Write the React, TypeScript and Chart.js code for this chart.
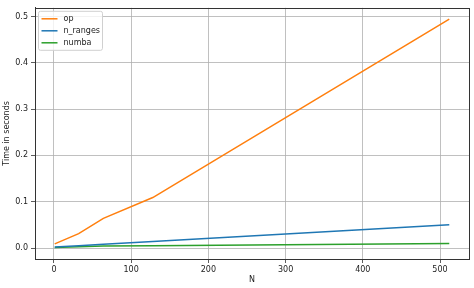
import React, { useEffect, useRef } from "react";
import { Chart, registerables } from "chart.js";

Chart.register(...registerables);

const nValues = [1, 32, 64, 128, 512];
const opTimes = [0.009, 0.031, 0.064, 0.109, 0.494];
const nRangesTimes = [0.002, 0.005, 0.008, 0.014, 0.0505];
const numbaTimes = [0.001, 0.003, 0.0045, 0.005, 0.010];
const seriesNames = ["op", "n_ranges", "numba"];
const seriesColors = ["#ff7f0e", "#1f77b4", "#2ca02c"];
const xTicks = [0, 100, 200, 300, 400, 500];
const yTicks = [0, 0.1, 0.2, 0.3, 0.4, 0.5];

const FONT = "'DejaVu Sans', sans-serif";

export default function App() {
  const ref = useRef<HTMLCanvasElement | null>(null);
  useEffect(() => {
    if (!ref.current) return;
    const all = [opTimes, nRangesTimes, numbaTimes];
    const datasets = all.map((vals, i) => ({
      label: seriesNames[i],
      data: nValues.map((n, j) => ({ x: n, y: vals[j] })),
      borderColor: seriesColors[i],
      backgroundColor: seriesColors[i],
      borderWidth: 1.5,
      pointRadius: 0,
      tension: 0,
      fill: false,
    }));
    const xmin = Math.min(...nValues);
    const xmax = Math.max(...nValues);
    const xm = (xmax - xmin) * 0.05;
    const flat = all.flat();
    const ymin = Math.min(...flat);
    const ymax = Math.max(...flat);
    const ym = (ymax - ymin) * 0.05;

    const framePlugin = {
      id: "frame",
      afterDraw(chart: any) {
        const { ctx, chartArea: a } = chart;
        ctx.save();
        ctx.strokeStyle = "#333";
        ctx.lineWidth = 1;
        ctx.strokeRect(Math.round(a.left) + 0.5, Math.round(a.top) + 0.5, Math.round(a.right - a.left), Math.round(a.bottom - a.top));
        // legend
        const lx = a.left + 3.5, ly = a.top + 3.5, lw = 64, lh = 39;
        ctx.fillStyle = "rgba(255,255,255,0.8)";
        ctx.strokeStyle = "#d0d0d0";
        ctx.beginPath();
        (ctx as any).roundRect(lx, ly, lw, lh, 2);
        ctx.fill();
        ctx.stroke();
        ctx.font = `8px ${FONT}`;
        ctx.textBaseline = "middle";
        ctx.textAlign = "left";
        seriesNames.forEach((name, i) => {
          const yy = ly + 7.5 + i * 12;
          ctx.strokeStyle = seriesColors[i];
          ctx.lineWidth = 1.5;
          ctx.beginPath();
          ctx.moveTo(lx + 3, yy);
          ctx.lineTo(lx + 19, yy);
          ctx.stroke();
          ctx.fillStyle = "#222";
          ctx.fillText(name, lx + 25, yy);
        });
        ctx.restore();
      },
    };

    const chart = new Chart(ref.current, {
      type: "line",
      data: { datasets },
      options: {
        animation: false,
        responsive: false,
        maintainAspectRatio: false,
        layout: { padding: { top: 5, right: 5, left: 0, bottom: 0 } },
        plugins: { legend: { display: false }, tooltip: { enabled: false } },
        scales: {
          x: {
            type: "linear",
            min: xmin - xm,
            max: xmax + xm,
            afterBuildTicks: (s: any) => { s.ticks = xTicks.map((v) => ({ value: v })); },
            afterFit: (s: any) => { s.height = 29; },
            ticks: { font: { family: FONT, size: 8 }, color: "#222", padding: 2, maxRotation: 0, callback: (v: any) => String(v) },
            grid: { color: "#b0b0b0", tickColor: "#333", tickLength: 4, lineWidth: 0.8 },
            border: { display: true, color: "#333" },
            title: { display: true, text: "N", font: { family: FONT, size: 8 }, color: "#222", padding: { top: 0, bottom: 3 } },
          },
          y: {
            type: "linear",
            min: ymin - ym,
            max: ymax + ym,
            afterBuildTicks: (s: any) => { s.ticks = yTicks.map((v) => ({ value: v })); },
            afterFit: (s: any) => { s.width = 35; },
            ticks: { font: { family: FONT, size: 8 }, color: "#222", padding: 3, callback: (v: any) => Number(v).toFixed(1) },
            grid: { color: "#b0b0b0", tickColor: "#333", tickLength: 4, lineWidth: 0.8 },
            border: { display: true, color: "#333" },
            title: { display: true, text: "Time in seconds", font: { family: FONT, size: 8 }, color: "#222", padding: { top: 2.5, bottom: 0 } },
          },
        },
      },
      plugins: [framePlugin],
    } as any);
    return () => chart.destroy();
  }, []);
  return (
    <div style={{ position: "fixed", left: 0, top: 0, width: 474, height: 288, background: "#fff" }}>
      <canvas ref={ref} width={474} height={288} style={{ display: "block" }} />
    </div>
  );
}
